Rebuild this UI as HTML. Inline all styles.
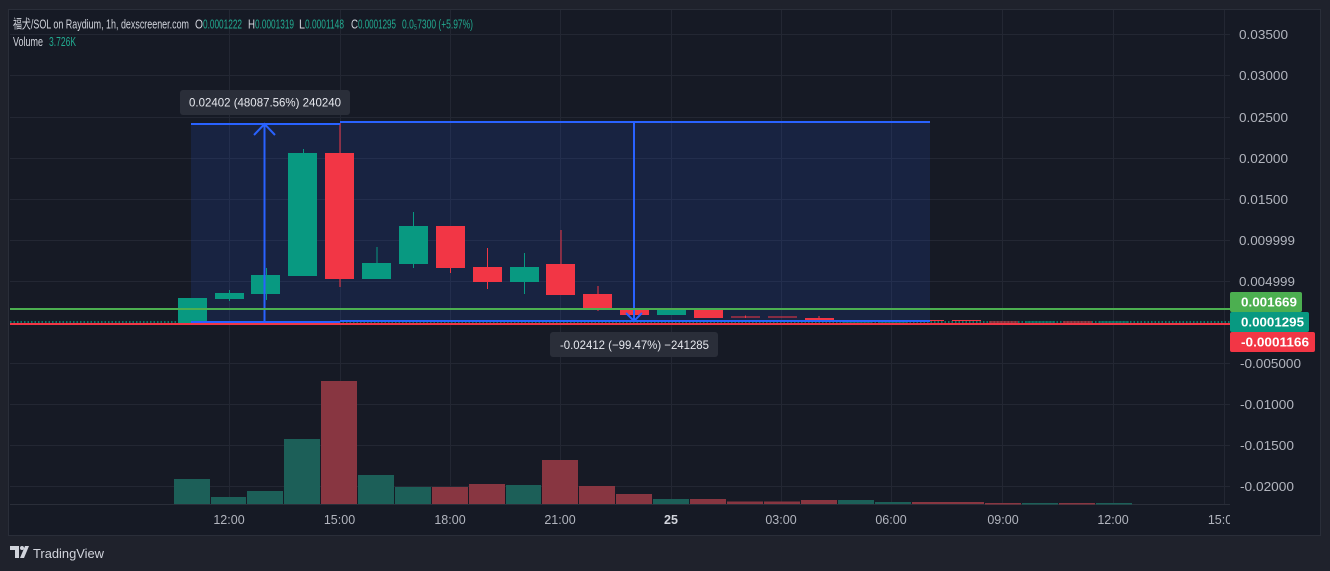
<!DOCTYPE html>
<html><head><meta charset="utf-8">
<style>
html,body{margin:0;padding:0;background:#1f222c;width:1330px;height:571px;overflow:hidden}
svg{display:block}
text{font-family:"Liberation Sans","Noto Sans CJK SC",sans-serif}
</style></head>
<body>
<svg width="1330" height="571" viewBox="0 0 1330 571" xmlns="http://www.w3.org/2000/svg">
<rect x="0" y="0" width="1330" height="571" fill="#1f222c"/>
<rect x="8.5" y="9.5" width="1312" height="526" fill="#161a25" stroke="#2a2e39" stroke-width="1"/>

<!-- grid horizontal -->
<g stroke="#232733" stroke-width="1">
<line x1="10" y1="34.5" x2="1230" y2="34.5"/>
<line x1="10" y1="75.5" x2="1230" y2="75.5"/>
<line x1="10" y1="117.5" x2="1230" y2="117.5"/>
<line x1="10" y1="158.5" x2="1230" y2="158.5"/>
<line x1="10" y1="199.5" x2="1230" y2="199.5"/>
<line x1="10" y1="240.5" x2="1230" y2="240.5"/>
<line x1="10" y1="281.5" x2="1230" y2="281.5"/>
<line x1="10" y1="363.5" x2="1230" y2="363.5"/>
<line x1="10" y1="404.5" x2="1230" y2="404.5"/>
<line x1="10" y1="445.5" x2="1230" y2="445.5"/>
<line x1="10" y1="486.5" x2="1230" y2="486.5"/>
</g>
<!-- grid vertical -->
<g stroke="#232733" stroke-width="1">
<line x1="229.5" y1="10" x2="229.5" y2="504"/>
<line x1="340.5" y1="10" x2="340.5" y2="504"/>
<line x1="450.5" y1="10" x2="450.5" y2="504"/>
<line x1="560.5" y1="10" x2="560.5" y2="504"/>
<line x1="671.5" y1="10" x2="671.5" y2="504"/>
<line x1="781.5" y1="10" x2="781.5" y2="504"/>
<line x1="891.5" y1="10" x2="891.5" y2="504"/>
<line x1="1002.5" y1="10" x2="1002.5" y2="504"/>
<line x1="1113.5" y1="10" x2="1113.5" y2="504"/>
<line x1="1224.5" y1="10" x2="1224.5" y2="504"/>
</g>
<!-- time axis separator -->
<line x1="10" y1="504.5" x2="1230" y2="504.5" stroke="#2a2e39" stroke-width="1"/>

<!-- measurement fills -->
<rect x="191" y="124" width="149" height="198" fill="#2962ff" fill-opacity="0.13"/>
<rect x="340" y="122" width="590" height="199" fill="#2962ff" fill-opacity="0.13"/>

<!-- volume -->
<g>
<rect x="174" y="479" width="36" height="25" fill="#1c5f58"/>
<rect x="211" y="497" width="35" height="7" fill="#1c5f58"/>
<rect x="247" y="491" width="36" height="13" fill="#1c5f58"/>
<rect x="284" y="439" width="36" height="65" fill="#1c5f58"/>
<rect x="321" y="381" width="36" height="123" fill="#883641"/>
<rect x="358" y="475" width="36" height="29" fill="#1c5f58"/>
<rect x="395" y="487" width="36" height="17" fill="#1c5f58"/>
<rect x="432" y="487" width="36" height="17" fill="#883641"/>
<rect x="469" y="484" width="36" height="20" fill="#883641"/>
<rect x="506" y="485" width="35" height="19" fill="#1c5f58"/>
<rect x="542" y="460" width="36" height="44" fill="#883641"/>
<rect x="579" y="486" width="36" height="18" fill="#883641"/>
<rect x="616" y="494" width="36" height="10" fill="#883641"/>
<rect x="653" y="499" width="36" height="5" fill="#1c5f58"/>
<rect x="690" y="499" width="36" height="5" fill="#883641"/>
<rect x="727" y="501.5" width="36" height="2.5" fill="#883641"/>
<rect x="764" y="501.5" width="36" height="2.5" fill="#883641"/>
<rect x="801" y="500" width="36" height="4" fill="#883641"/>
<rect x="838" y="500" width="36" height="4" fill="#1c5f58"/>
<rect x="875" y="502" width="36" height="2" fill="#1c5f58"/>
<rect x="912" y="502" width="36" height="2" fill="#883641"/>
<rect x="948" y="502" width="36" height="2" fill="#883641"/>
<rect x="985" y="503" width="36" height="1.5" fill="#883641"/>
<rect x="1022" y="503" width="36" height="1.5" fill="#1c5f58"/>
<rect x="1059" y="503" width="36" height="1.5" fill="#883641"/>
<rect x="1096" y="503" width="36" height="1.5" fill="#1c5f58"/>
</g>

<!-- dotted baseline of tiny candles -->
<line x1="10" y1="322" x2="1230" y2="322" stroke="#089981" stroke-width="1.5" stroke-dasharray="1.5,2"/>

<!-- candles -->
<g>
<g stroke-width="1">
<line x1="229.5" y1="290" x2="229.5" y2="301" stroke="#089981"/>
<line x1="266.5" y1="268" x2="266.5" y2="300" stroke="#089981"/>
<line x1="303.5" y1="149" x2="303.5" y2="276" stroke="#089981"/>
<line x1="340" y1="123" x2="340" y2="287" stroke="#f23645"/>
<line x1="377" y1="247" x2="377" y2="279" stroke="#089981"/>
<line x1="413.5" y1="212" x2="413.5" y2="268" stroke="#089981"/>
<line x1="450.5" y1="226" x2="450.5" y2="273" stroke="#f23645"/>
<line x1="487.5" y1="248" x2="487.5" y2="289" stroke="#f23645"/>
<line x1="524.5" y1="253" x2="524.5" y2="294" stroke="#089981"/>
<line x1="561" y1="230" x2="561" y2="295" stroke="#f23645"/>
<line x1="598" y1="286" x2="598" y2="311" stroke="#f23645"/>
<line x1="819" y1="316" x2="819" y2="322" stroke="#f23645"/>
<line x1="745.5" y1="315.5" x2="745.5" y2="318" stroke="#f23645"/>
</g>
<rect x="178" y="298" width="29" height="25" fill="#089981"/>
<rect x="215" y="293" width="29" height="6" fill="#089981"/>
<rect x="251" y="275" width="29" height="19" fill="#089981"/>
<rect x="288" y="153" width="29" height="123" fill="#089981"/>
<rect x="325" y="153" width="29" height="126" fill="#f23645"/>
<rect x="362" y="263" width="29" height="16" fill="#089981"/>
<rect x="399" y="226" width="29" height="38" fill="#089981"/>
<rect x="436" y="226" width="29" height="42" fill="#f23645"/>
<rect x="473" y="267" width="29" height="15" fill="#f23645"/>
<rect x="510" y="267" width="29" height="15" fill="#089981"/>
<rect x="546" y="264" width="29" height="31" fill="#f23645"/>
<rect x="583" y="294" width="29" height="15" fill="#f23645"/>
<rect x="620" y="308" width="29" height="7" fill="#f23645"/>
<rect x="657" y="309" width="29" height="6" fill="#089981"/>
<rect x="694" y="309" width="29" height="9" fill="#f23645"/>
<rect x="731" y="316.5" width="29" height="1" fill="#f23645"/>
<rect x="768" y="316.5" width="29" height="1" fill="#f23645"/>
<rect x="805" y="318" width="29" height="4" fill="#f23645"/>
<rect x="842" y="321" width="29" height="1.5" fill="#089981"/>
<rect x="879" y="321" width="29" height="1.5" fill="#089981"/>
<rect x="915" y="320" width="29" height="1" fill="#f23645"/>
<rect x="952" y="320" width="29" height="1" fill="#f23645"/>
<rect x="989" y="321.5" width="29" height="1" fill="#f23645"/>
<rect x="1026" y="321.5" width="29" height="1" fill="#089981"/>
<rect x="1063" y="321.5" width="29" height="1" fill="#f23645"/>
<rect x="1100" y="321.5" width="29" height="1" fill="#089981"/>
</g>

<!-- measurement borders & arrows -->
<g stroke="#2962ff" stroke-width="2" fill="none">
<line x1="191" y1="124" x2="340" y2="124"/>
<line x1="191" y1="322" x2="340" y2="322"/>
<line x1="340" y1="122" x2="930" y2="122"/>
<line x1="340" y1="321" x2="930" y2="321"/>
<line x1="264.5" y1="124" x2="264.5" y2="322"/>
<polyline points="254,135 264.5,124 275,135"/>
<line x1="634" y1="122" x2="634" y2="321"/>
<polyline points="626,313 634,321 642,313"/>
</g>

<!-- price lines -->
<line x1="10" y1="309" x2="1230" y2="309" stroke="#4caf50" stroke-width="2"/>
<line x1="10" y1="324" x2="1230" y2="324" stroke="#f23645" stroke-width="2"/>

<!-- tooltips -->
<rect x="180" y="90" width="170" height="25" rx="3" fill="#2a2e39"/>
<text x="189" y="106.5" font-size="12" fill="#e6e8ee" textLength="152" lengthAdjust="spacingAndGlyphs">0.02402 (48087.56%) 240240</text>
<rect x="550" y="332" width="168" height="25" rx="3" fill="#2a2e39"/>
<text x="560" y="349" font-size="12" fill="#e6e8ee" textLength="149" lengthAdjust="spacingAndGlyphs">-0.02412 (−99.47%) −241285</text>

<!-- price axis labels -->
<g font-size="12.5" fill="#b2b5be">
<text x="1239" y="39" textLength="49" lengthAdjust="spacingAndGlyphs">0.03500</text>
<text x="1239" y="80" textLength="49" lengthAdjust="spacingAndGlyphs">0.03000</text>
<text x="1239" y="122" textLength="49" lengthAdjust="spacingAndGlyphs">0.02500</text>
<text x="1239" y="163" textLength="49" lengthAdjust="spacingAndGlyphs">0.02000</text>
<text x="1239" y="204" textLength="49" lengthAdjust="spacingAndGlyphs">0.01500</text>
<text x="1239" y="245" textLength="56" lengthAdjust="spacingAndGlyphs">0.009999</text>
<text x="1239" y="286" textLength="56" lengthAdjust="spacingAndGlyphs">0.004999</text>
<text x="1240" y="368" textLength="61" lengthAdjust="spacingAndGlyphs">-0.005000</text>
<text x="1240" y="409" textLength="54" lengthAdjust="spacingAndGlyphs">-0.01000</text>
<text x="1240" y="450" textLength="54" lengthAdjust="spacingAndGlyphs">-0.01500</text>
<text x="1240" y="491" textLength="54" lengthAdjust="spacingAndGlyphs">-0.02000</text>
</g>
<rect x="1230" y="292" width="72" height="20" rx="2" fill="#4caf50"/>
<text x="1241" y="306.5" font-size="12.5" font-weight="bold" fill="#ffffff" textLength="56" lengthAdjust="spacingAndGlyphs">0.001669</text>
<rect x="1230" y="312" width="79" height="20" rx="2" fill="#089981"/>
<text x="1241" y="326.5" font-size="12.5" font-weight="bold" fill="#ffffff" textLength="63" lengthAdjust="spacingAndGlyphs">0.0001295</text>
<rect x="1230" y="332" width="85" height="20" rx="2" fill="#f23645"/>
<text x="1241" y="346.5" font-size="12.5" font-weight="bold" fill="#ffffff" textLength="68" lengthAdjust="spacingAndGlyphs">-0.0001166</text>

<!-- time axis labels -->
<g font-size="12.5" fill="#b2b5be" text-anchor="middle">
<text x="229" y="524">12:00</text>
<text x="339.5" y="524">15:00</text>
<text x="450" y="524">18:00</text>
<text x="560" y="524">21:00</text>
<text x="671" y="524" font-weight="bold" fill="#d1d4dc">25</text>
<text x="781" y="524">03:00</text>
<text x="891" y="524">06:00</text>
<text x="1003" y="524">09:00</text>
<text x="1113" y="524">12:00</text>
</g>
<svg x="1200" y="505" width="30" height="30" overflow="hidden"><text x="23.5" y="19" font-size="12.5" fill="#b2b5be" text-anchor="middle">15:00</text></svg>

<!-- legend -->
<g font-size="13" fill="#d1d4dc">
<text x="13" y="28.5" textLength="176" lengthAdjust="spacingAndGlyphs">福犬/SOL on Raydium, 1h, dexscreener.com</text>
<text x="195" y="28.5" textLength="8" lengthAdjust="spacingAndGlyphs">O</text>
<text x="203" y="28.5" fill="#22a98f" textLength="39" lengthAdjust="spacingAndGlyphs">0.0001222</text>
<text x="248" y="28.5" textLength="7" lengthAdjust="spacingAndGlyphs">H</text>
<text x="255" y="28.5" fill="#22a98f" textLength="39" lengthAdjust="spacingAndGlyphs">0.0001319</text>
<text x="299" y="28.5" textLength="6" lengthAdjust="spacingAndGlyphs">L</text>
<text x="305" y="28.5" fill="#22a98f" textLength="39" lengthAdjust="spacingAndGlyphs">0.0001148</text>
<text x="351" y="28.5" textLength="7" lengthAdjust="spacingAndGlyphs">C</text>
<text x="358" y="28.5" fill="#22a98f" textLength="38" lengthAdjust="spacingAndGlyphs">0.0001295</text>
<text x="402" y="28.5" fill="#22a98f" textLength="71" lengthAdjust="spacingAndGlyphs">0.0₅7300 (+5.97%)</text>
<text x="13" y="46" textLength="30" lengthAdjust="spacingAndGlyphs">Volume</text>
<text x="49" y="46" fill="#22a98f" textLength="27" lengthAdjust="spacingAndGlyphs">3.726K</text>
</g>

<!-- TradingView logo -->
<g fill="#d1d4dc">
<path d="M10 546 h9 v12 h-4 v-8 h-5 z"/>
<circle cx="22" cy="548" r="2"/>
<path d="M25 546 h4 l-5 12 h-4 z"/>
<text x="33" y="558" font-size="13" textLength="71" lengthAdjust="spacingAndGlyphs">TradingView</text>
</g>
</svg>
</body></html>
